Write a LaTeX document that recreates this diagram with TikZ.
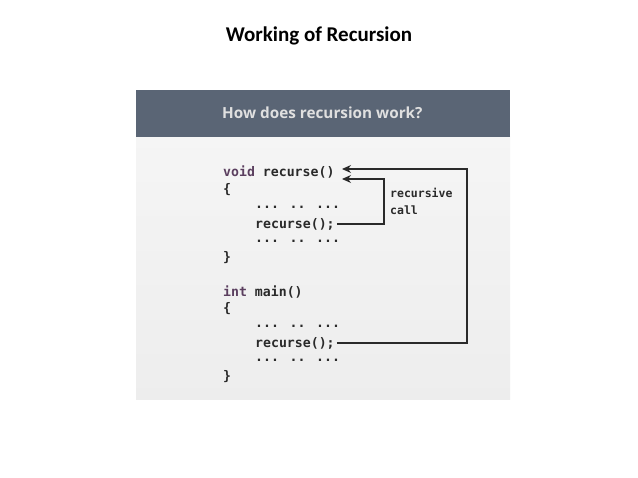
\documentclass[tikz,border=0pt]{standalone}
\usepackage{fontspec}
\setmainfont{Carlito}
\newfontfamily\hdr{Open Sans}
\newfontfamily\code{DejaVu Sans Mono}
\usetikzlibrary{arrows.meta}
\definecolor{hdrbg}{HTML}{5A6575}
\definecolor{kw}{HTML}{5B3F5F}
\definecolor{txt}{HTML}{2A2A2A}
\begin{document}
\begin{tikzpicture}[x=1pt,y=-1pt,
  cl/.style={anchor=west,inner sep=0pt,font=\code\bfseries\fontsize{13.2}{13.2}\selectfont,text=txt},
  arr/.style={line width=1.3pt,draw=txt,-{Stealth[length=9pt,width=8pt]}}]
\useasboundingbox (0,0) rectangle (638,478);
\fill[white] (0,0) rectangle (638,478);
\node[font=\bfseries\fontsize{21}{21}\selectfont] (title) at (319,36) {Working of Recursion};
\shade[top color=white!96!black,bottom color=white!93!black] (136,137) rectangle (510,400);
\fill[hdrbg] (136,90) rectangle (510,137);
\node[anchor=west,inner sep=0pt,text=white!88!black,font=\hdr\bfseries\fontsize{15.3}{15.3}\selectfont] (hd) at (222,113) {How does recursion work?};
\node[cl] (l1) at (223,172) {\textcolor{kw}{void} recurse()};
\node[cl] (l2) at (223,190) {\{};
\node[cl] (l3) at (255,207) {... .. ...};
\node[cl] (l4) at (255,224) {recurse();};
\node[cl] (l5) at (255,241) {... .. ...};
\node[cl] (l6) at (223,258) {\}};
\node[cl] (l7) at (223,292) {\textcolor{kw}{int} main()};
\node[cl] (l8) at (223,309) {\{};
\node[cl] (l9) at (255,326) {... .. ...};
\node[cl] (l10) at (255,343) {recurse();};
\node[cl] (l11) at (255,360) {... .. ...};
\node[cl] (l12) at (223,377) {\}};
\node[cl,align=left,font=\code\bfseries\fontsize{11.5}{17}\selectfont] (rc) at (390,201) {recursive\\call};
\coordinate (t1) at (342,169);
\coordinate (t2) at (342,179);
\draw[arr] (l4.east) ++(2,0) -- (384,224) -- (384,179) -- (t2);
\draw[arr] (l10.east) ++(2,0) -- (467,343) -- (467,169) -- (t1);
\end{tikzpicture}
\end{document}
